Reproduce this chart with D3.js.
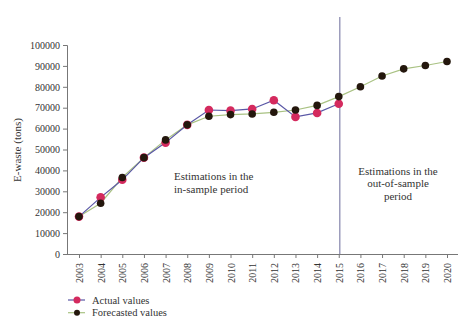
<!DOCTYPE html>
<html><head><meta charset="utf-8">
<script src="https://cdn.jsdelivr.net/npm/d3@7"></script>
<style>body{margin:0;background:#fff;} text{font-family:"Liberation Serif","DejaVu Serif",serif;fill:#333;}</style>
</head><body><svg id="c" width="474" height="333"></svg>
<script>
const years = [2003,2004,2005,2006,2007,2008,2009,2010,2011,2012,2013,2014,2015,2016,2017,2018,2019,2020];
const actualYears = [2003,2004,2005,2006,2007,2008,2009,2010,2011,2012,2013,2014,2015];
const actualValues = [17900,27100,35500,46100,53300,61800,68900,68600,69400,73600,65600,67500,71900];
const forecastValues = [17900,24300,36600,46100,54600,61800,65900,66700,67000,67800,68900,71100,75300,80000,85200,88600,90200,92100];
const yTicks = [0,10000,20000,30000,40000,50000,60000,70000,80000,90000,100000];
const legendLabels = ["Actual values","Forecasted values"];

const svg = d3.select("#c");
const x = d3.scalePoint().domain(years).range([79,447]);
const y = d3.scaleLinear().domain([0,100000]).range([254,45]);
const axisColor = "#777";

// vertical divider
svg.append("line").attr("x1",x(2015)+1).attr("x2",x(2015)+1).attr("y1",17).attr("y2",254)
  .attr("stroke","#9c9cbc").attr("stroke-width",1.5);

// y axis
const ya = svg.append("g").attr("transform","translate(67,0)")
  .call(d3.axisLeft(y).tickValues(yTicks).tickSize(4).tickPadding(3).tickFormat(d3.format("d")));
ya.select(".domain").attr("stroke",axisColor);
ya.selectAll(".tick line").attr("stroke",axisColor);
ya.selectAll("text").attr("font-size",10).style("font-family","Liberation Serif").attr("fill","#333");

// x axis
const xa = svg.append("g").attr("transform","translate(0,254)")
  .call(d3.axisBottom(x).tickSize(4).tickSizeOuter(0));
xa.select(".domain").attr("d","M67,0.5H458").attr("stroke",axisColor);
xa.selectAll(".tick line").attr("stroke",axisColor);
xa.selectAll("text").attr("font-size",10).style("font-family","Liberation Serif").attr("fill","#333")
  .attr("transform","rotate(-90)").attr("text-anchor","end").attr("x",-9).attr("y",0).attr("dy","0.35em");

// y label
svg.append("text").attr("transform","translate(21,150) rotate(-90)").attr("text-anchor","middle")
  .attr("font-size",11).text("E-waste (tons)");

// lines
const lineA = d3.line().x((d,i)=>x(actualYears[i])).y(d=>y(d));
const lineF = d3.line().x((d,i)=>x(years[i])).y(d=>y(d));
svg.append("path").datum(forecastValues).attr("d",lineF).attr("fill","none").attr("stroke","#a9c283").attr("stroke-width",1.2);
svg.append("path").datum(actualValues).attr("d",lineA).attr("fill","none").attr("stroke","#5a58a6").attr("stroke-width",1.2);

svg.selectAll(".ma").data(actualValues).enter().append("circle")
  .attr("cx",(d,i)=>x(actualYears[i])).attr("cy",d=>y(d)).attr("r",4.3).attr("fill","#d42a5e");
svg.selectAll(".mf").data(forecastValues).enter().append("circle")
  .attr("cx",(d,i)=>x(years[i])).attr("cy",d=>y(d)).attr("r",3.8).attr("fill","#24170d");

// annotations
svg.append("text").attr("x",174).attr("y",180).attr("font-size",11).text("Estimations in the");
svg.append("text").attr("x",174).attr("y",192.5).attr("font-size",11).text("in-sample period");
const t2 = ["Estimations in the","out-of-sample","period"];
t2.forEach((s,i)=>svg.append("text").attr("x",398).attr("y",175+i*12.3).attr("text-anchor","middle").attr("font-size",11).text(s));

// legend
const lg = [{c:"#d42a5e",l:"#5a58a6",r:4},{c:"#24170d",l:"#a9c283",r:3.5}];
lg.forEach((g,i)=>{
  const yy = 300+i*12.7;
  svg.append("line").attr("x1",68).attr("x2",85).attr("y1",yy).attr("y2",yy).attr("stroke",g.l).attr("stroke-width",1.2);
  svg.append("circle").attr("cx",77).attr("cy",yy).attr("r",g.r-0.5).attr("fill",g.c);
  svg.append("text").attr("x",92).attr("y",yy).attr("dy","0.35em").attr("font-size",10.5).text(legendLabels[i]);
});
</script></body></html>
